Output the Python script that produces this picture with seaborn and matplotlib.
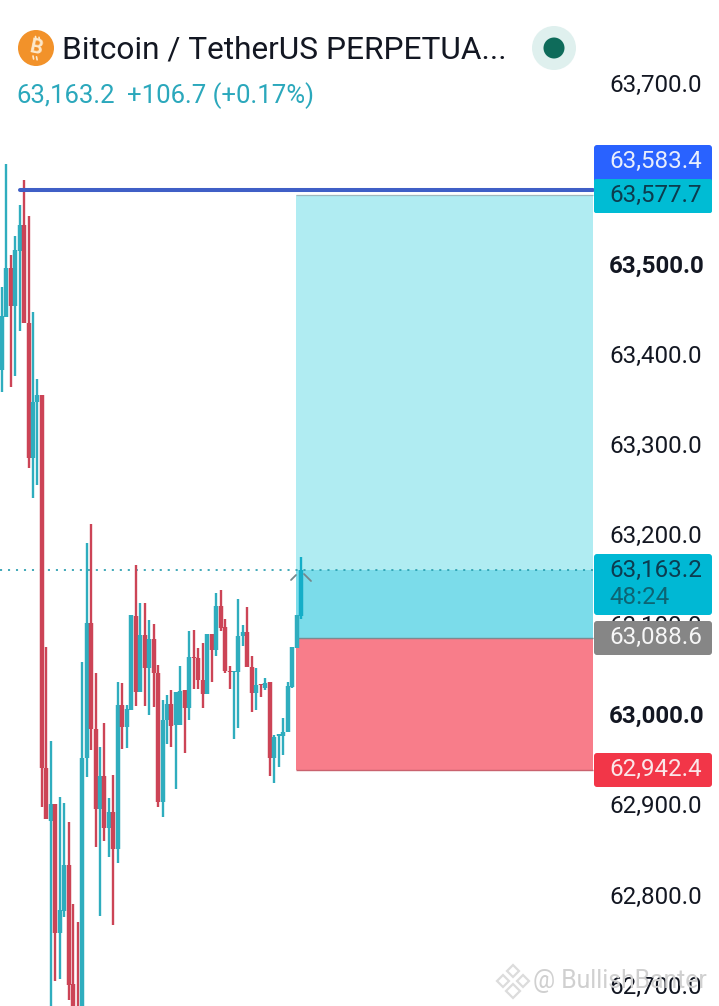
import matplotlib
matplotlib.use("Agg")
import matplotlib.pyplot as plt
from matplotlib.patches import FancyBboxPatch, Circle, Polygon
from matplotlib.lines import Line2D
from matplotlib.transforms import Affine2D, ScaledTranslation
import numpy as np
import pandas as pd
import seaborn as sns

opens = [63385,63443,63497,63455,63516,63545,63436,63287,63349,63357,
         62945,62886,62905,62762,62787,62837,62706,62670,62660,62956,
         63105,62988,62899,62936,62878,62896,62855,63014,62990,63009,
         63113,63029,63092,63055,63087,63050,62907,62998,63015,62992,
         62992,63031,63011,63067,63066,63042,63026,63093,63075,63124,
         63100,63052,63051,63051,63090,63095,63056,63028,63037,63033,
         63040,62956,62980,62980,62984,63034,63077,63113]
closes = [63444,63497,63455,63517,63545,63436,63287,63349,63357,62945,
          62888,62905,62762,62788,62837,62705,62666,62650,62956,63105,
          62988,62899,62936,62878,62896,62855,63014,62990,63010,63114,
          63029,63092,63055,63087,63050,62907,62998,63015,62991,63029,
          63030,63011,63067,63066,63042,63026,63093,63075,63124,63099,
          63052,63051,63052,63090,63095,63056,63028,63036,63036,63039,
          62956,62979,62982,62984,63035,63078,63114,63163.2]
highs = [63476,63612,63512,63533,63567,63594,63555,63449,63375,63357,
         63078,62974,62905,62913,62906,62885,62794,62774,63062,63193,
         63214,63050,62968,62994,62911,62937,63040,63039,63014,63114,
         63169,63127,63127,63108,63104,63058,63020,63025,63031,63029,
         63057,63031,63096,63097,63077,63083,63093,63093,63138,63141,
         63109,63057,63052,63131,63103,63123,63068,63055,63037,63044,
         63040,62981,62982,63000,63040,63078,63114,63178]
lows = [63360,63443,63366,63378,63428,63436,63276,63243,63257,62902,
        62888,62670,62709,62711,62780,62688,62650,62640,62650,62935,
        62965,62857,62781,62864,62846,62771,62840,62966,62967,63009,
        63013,63029,63013,63003,63012,62902,62890,62971,62968,62921,
        62992,62961,62998,63032,63032,63011,63026,63040,63068,63096,
        63050,63032,62977,62989,63079,63056,63007,63009,63023,63031,
        62936,62928,62946,62959,62984,63033,63077,63109]

price_ticks = [62700,62800,62900,63000,63100,63200,63300,63400,63500,63600,63700]
bold_ticks = [63000,63500]
last_price = 63163.2
entry_price = 63088.6
target_price = 63577.7
stop_price = 62942.4
line_price = 63583.4

W, H = 719, 1006
TEAL, RED, LIVE = "#2fadbe", "#cc4456", "#14aec8"
CANDLE_STEP, CANDLE_X0 = 4.467, 1.7

sns.set_theme(style="white")
plt.rcParams["font.family"] = ["Roboto", "DejaVu Sans"]

fig = plt.figure(figsize=(W/100, H/100), dpi=100, facecolor="white")
ax = fig.add_axes([0, 0, 1, 1], facecolor="white")

n = len(opens)
idx = list(range(n))
palette = {i: (TEAL if closes[i] >= opens[i] else RED) for i in idx}
palette[n-1] = LIVE

wicks = pd.DataFrame({"candle": idx*2, "price": highs + lows})
bodies = pd.DataFrame({"candle": idx*2, "price": opens + closes})

sns.lineplot(data=wicks, x="candle", y="price", hue="candle", palette=palette,
             estimator=None, legend=False, linewidth=1.7, solid_capstyle="butt",
             ax=ax, zorder=3)
sns.lineplot(data=bodies, x="candle", y="price", hue="candle", palette=palette,
             estimator=None, legend=False, linewidth=3.2, solid_capstyle="butt",
             ax=ax, zorder=3.1)

def x_of(px):
    return (px - CANDLE_X0) / CANDLE_STEP

ax.set_xlim(x_of(0), x_of(W))
ax.set_ylim(63583.4 - (H - 190)*1.1052, 63583.4 + 190*1.1052)
ax.set_xlabel("")
ax.set_ylabel("")
ax.set_xticks([])
sns.despine(ax=ax, left=True, bottom=True, right=True, top=True)

# position zones
xl, xr = x_of(296), x_of(593)
ax.fill_between([xl, xr], entry_price, target_price, color="#b0ecf2", lw=0, zorder=1)
ax.fill_between([xl, xr], entry_price, last_price, color="#7bdcea", lw=0, zorder=1.1)
ax.fill_between([xl, xr], stop_price, entry_price, color="#f87d8a", lw=0, zorder=1)
ax.hlines(target_price, xl, xr, color="#9fb8bc", lw=0.9, zorder=1.2)
ax.hlines(entry_price, xl, xr, color="#7d8a90", lw=1.0, zorder=1.2)
ax.hlines(stop_price, xl, xr, color="#c9626e", lw=1.0, zorder=1.2)

# price lines
ax.hlines(line_price, x_of(20), xr, color="#3f5fc6", lw=2.9, zorder=4, capstyle="round")
ax.hlines(last_price, x_of(0), xr, color="#2a9fb0", lw=1.25,
          linestyles=[(0, (1.2, 3.4))], zorder=2.8)

# axis
ax.yaxis.tick_right()
ax.set_yticks(price_ticks)
ax.set_yticklabels([f"{v:,.1f}" for v in price_ticks])
ax.tick_params(axis="y", length=0, pad=-79.2, labelsize=17.4, colors="#131722")
for v, lab in zip(price_ticks, ax.get_yticklabels()):
    lift = (1.5 + 3.0*(63700 - v)/1000) * 0.72
    lab.set_transform(lab.get_transform() + ScaledTranslation(0, lift/72, fig.dpi_scale_trans))
    lab.set_color("#131722")
    if v in bold_ticks:
        lab.set_fontweight("bold")

# decorations placed in image pixels
px = Affine2D().scale(1, -1).translate(0, H)

def box(y0, y1, color, x0=594, x1=712):
    ax.add_patch(FancyBboxPatch((x0+3, y0+3), x1-x0-6, y1-y0-6,
                                boxstyle="round,pad=3,rounding_size=3",
                                transform=px, fc=color, ec="none", zorder=5, clip_on=False))

def label(x, y, s, color, size=17.4, **kw):
    ax.text(x, y, s, transform=px, color=color, fontsize=size, va="center",
            zorder=6, clip_on=False, **kw)

box(145, 184, "#2962ff")
label(609.5, 161, "63,583.4", "#e8eefc")
ax.add_patch(FancyBboxPatch((596, 181), 114, 30, boxstyle="round,pad=2,rounding_size=2",
                            transform=px, fc="#00bcd4", ec="none", zorder=5.1, clip_on=False))
label(609.5, 195, "63,577.7", "#0c3c4e")
box(554, 615, "#00b8d4")
label(609.5, 570, "63,163.2", "#0c3c50")
label(609.5, 598, "48:24", "#0d6473")
box(621, 655, "#868686")
label(609.5, 637, "63,088.6", "#f6f6f6")
box(753, 787, "#f23648")
label(609.5, 769, "62,942.4", "#fbe6e8")

# chevron at the last price
ax.add_line(Line2D([291, 296], [580, 575], transform=px, color="#75878c", lw=1.3, zorder=4))
ax.add_line(Line2D([304, 311], [574, 581], transform=px, color="#75878c", lw=1.3, zorder=4))

# header
ax.add_patch(Circle((36, 48), 18, transform=px, fc="#f2922a", ec="none", zorder=6, clip_on=False))
ax.text(36, 48, "B", transform=px, color="#fde9cc", fontsize=14.5, fontweight="bold",
        rotation=-12, ha="center", va="center", zorder=7, family="Roboto")
for x0, y0 in [(35.5, 36.5), (39.0, 37.3), (33.0, 56.0), (36.5, 56.8)]:
    ax.add_line(Line2D([x0, x0 + 0.6], [y0, y0 + 3], transform=px, color="#fde9cc", lw=1.2, zorder=7))
ax.text(62, 50, "Bitcoin / TetherUS PERPETUA...", transform=px, color="#131722",
        fontsize=22.8, va="center", zorder=6)
ax.text(16, 95.5, "63,163.2", transform=px, color="#2ba8bc", fontsize=18.5, va="center", zorder=6)
ax.text(127, 95.5, "+106.7 (+0.17%)", transform=px, color="#2ba8bc", fontsize=18.5, va="center", zorder=6)
ax.add_patch(Circle((554, 48), 22, transform=px, fc="#dff0ee", ec="none", zorder=6))
ax.add_patch(Circle((554, 48), 10.5, transform=px, fc="#0e6b5a", ec="none", zorder=7))

# watermark
for cx, cy, r in [(513, 971, 6), (503, 981, 6), (523, 981, 6), (513, 991, 7)]:
    ax.add_patch(Polygon([(cx, cy-r), (cx+r, cy), (cx, cy+r), (cx-r, cy)], closed=True,
                         transform=px, fc="none", ec="#dcdcdc", lw=1.6, zorder=2.9))
ax.text(533, 981, "@ BullishBanter", transform=px, color="#d0d0d0", fontsize=17.8,
        va="center", zorder=2.9)

fig.savefig("out.png", dpi=100, facecolor="white")
